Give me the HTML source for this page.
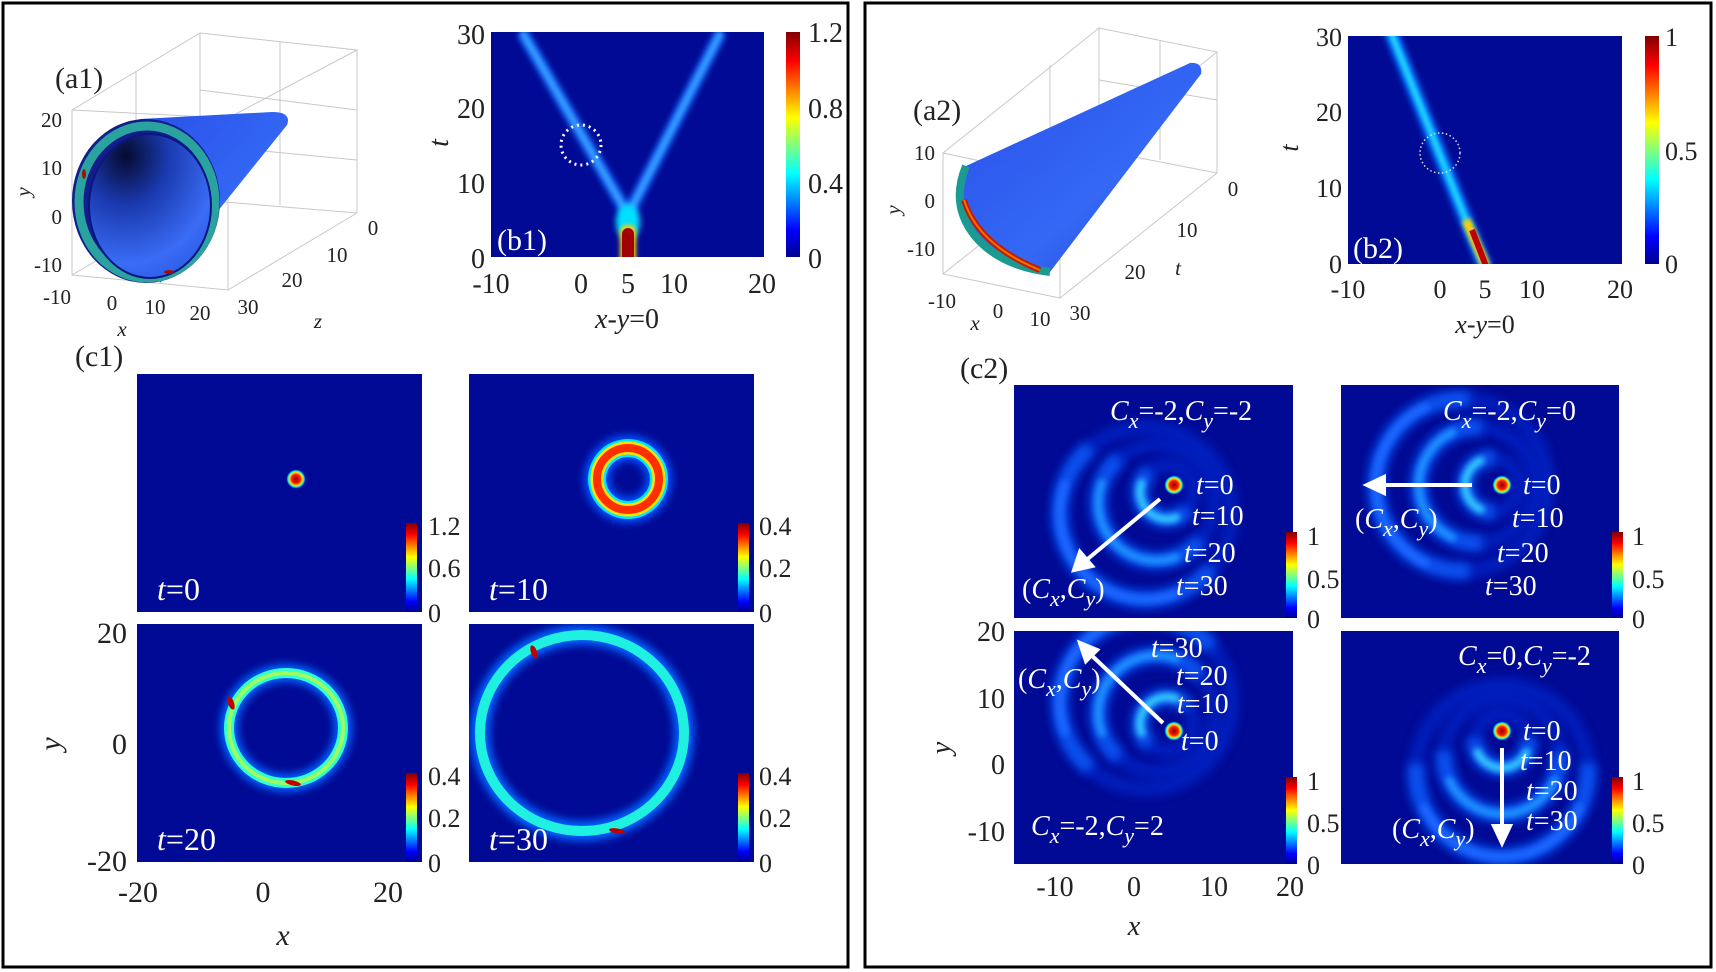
<!DOCTYPE html>
<html><head><meta charset="utf-8"><style>
html,body{margin:0;padding:0;background:#fff}
svg{display:block}
text{font-family:"Liberation Serif",serif;fill:#222}
.w{fill:#fff}
.i{font-style:italic}
</style></head><body>
<svg width="1716" height="972" viewBox="0 0 1716 972" xmlns="http://www.w3.org/2000/svg">
<defs>
<linearGradient id="jet" x1="0" y1="1" x2="0" y2="0">
<stop offset="0" stop-color="#00008f"/><stop offset="0.12" stop-color="#0000ff"/><stop offset="0.37" stop-color="#00ffff"/><stop offset="0.62" stop-color="#ffff00"/><stop offset="0.87" stop-color="#ff0000"/><stop offset="1" stop-color="#800000"/>
</linearGradient>
<filter id="b2" x="-50%" y="-50%" width="200%" height="200%"><feGaussianBlur stdDeviation="2"/></filter>
<filter id="b3" x="-50%" y="-50%" width="200%" height="200%"><feGaussianBlur stdDeviation="3"/></filter>
<filter id="b4" x="-50%" y="-50%" width="200%" height="200%"><feGaussianBlur stdDeviation="4"/></filter>
<filter id="b5" x="-50%" y="-50%" width="200%" height="200%"><feGaussianBlur stdDeviation="5"/></filter>
<radialGradient id="spot"><stop offset="0" stop-color="#900000"/><stop offset="0.45" stop-color="#ff2000"/><stop offset="0.65" stop-color="#ffe000"/><stop offset="0.82" stop-color="#00e0ff"/><stop offset="1" stop-color="#000a94" stop-opacity="0"/></radialGradient>
<radialGradient id="inner" cx="0.3" cy="0.15" r="1"><stop offset="0" stop-color="#050a30"/><stop offset="0.35" stop-color="#1a3ab0"/><stop offset="0.75" stop-color="#3a6cf5"/><stop offset="1" stop-color="#2a55e0"/></radialGradient>
<linearGradient id="coneg" x1="0" y1="0" x2="1" y2="1"><stop offset="0" stop-color="#2a50e8"/><stop offset="0.6" stop-color="#3468f5"/><stop offset="1" stop-color="#2244d0"/></linearGradient>
<clipPath id="cb1"><rect x="491" y="32" width="273" height="225"/></clipPath>
<clipPath id="cb2"><rect x="1348" y="36" width="274" height="228"/></clipPath>
<clipPath id="c1b"><rect x="469" y="374" width="285" height="238"/></clipPath>
<clipPath id="c1c"><rect x="137" y="624" width="285" height="238"/></clipPath>
<clipPath id="c1d"><rect x="469" y="624" width="285" height="238"/></clipPath>
<clipPath id="c2a"><rect x="1014" y="385" width="279" height="233"/></clipPath>
<clipPath id="c2b"><rect x="1341" y="385" width="278" height="233"/></clipPath>
<clipPath id="c2c"><rect x="1014" y="631" width="279" height="233"/></clipPath>
<clipPath id="c2d"><rect x="1341" y="631" width="278" height="233"/></clipPath>
</defs>

<rect x="3" y="3" width="845" height="964" fill="none" stroke="#000" stroke-width="3"/>
<rect x="865" y="3" width="846" height="964" fill="none" stroke="#000" stroke-width="3"/>

<!-- a1 -->
<g stroke="#c8c8c8" stroke-width="1" fill="none">
<polyline points="72,110 200,33 357,50 357,213"/>
<line x1="200" y1="33" x2="200" y2="200"/>
<line x1="200" y1="200" x2="357" y2="213"/>
<line x1="72" y1="275" x2="200" y2="200"/>
<line x1="136" y1="72" x2="136" y2="240"/><line x1="280" y1="42" x2="280" y2="205"/>
<line x1="200" y1="90" x2="357" y2="110"/><line x1="200" y1="145" x2="357" y2="160"/>
<polyline points="72,110 228,118 228,290 72,275 72,110"/>
<line x1="228" y1="118" x2="357" y2="50"/><line x1="228" y1="290" x2="357" y2="213"/>
</g>
<path d="M140,119 L272,112 Q292,112 287,125 L160,283 Z" fill="url(#coneg)"/>
<ellipse cx="146" cy="201" rx="74" ry="82" fill="#141e8a"/>
<ellipse cx="147" cy="202" rx="68" ry="76" fill="none" stroke="#2aa3a0" stroke-width="9"/>
<ellipse cx="150" cy="206" rx="61" ry="72" fill="url(#inner)" stroke="#0b1680" stroke-width="2"/>
<ellipse cx="84" cy="174" rx="2" ry="5" fill="#a01000"/>
<ellipse cx="169" cy="272" rx="5" ry="2" fill="#a01000"/>
<g font-size="21">
<text x="55" y="88" font-size="30">(a1)</text>
<text x="62" y="127" text-anchor="end">20</text>
<text x="62" y="175" text-anchor="end">10</text>
<text x="62" y="224" text-anchor="end">0</text>
<text x="62" y="272" text-anchor="end">-10</text>
<text x="57" y="304" text-anchor="middle">-10</text>
<text x="112" y="310" text-anchor="middle">0</text>
<text x="155" y="314" text-anchor="middle">10</text>
<text x="200" y="320" text-anchor="middle">20</text>
<text x="373" y="235" text-anchor="middle">0</text>
<text x="337" y="262" text-anchor="middle">10</text>
<text x="292" y="287" text-anchor="middle">20</text>
<text x="248" y="314" text-anchor="middle">30</text>
<text x="122" y="336" class="i" text-anchor="middle">x</text>
<text x="318" y="328" class="i" text-anchor="middle">z</text>
<text x="0" y="0" class="i" transform="translate(30,192) rotate(-90)" text-anchor="middle">y</text>
</g>

<!-- b1 -->
<rect x="491" y="32" width="273" height="225" fill="#000a94"/>
<g clip-path="url(#cb1)">
<polyline points="522,32 628,215 721,32" fill="none" stroke="#1a70ff" stroke-width="12" filter="url(#b3)"/>
<polyline points="522,32 628,215 721,32" fill="none" stroke="#3aa8ff" stroke-width="4" filter="url(#b2)"/>
<ellipse cx="628" cy="222" rx="12" ry="18" fill="#00e0ff" filter="url(#b3)"/>
<rect x="620" y="225" width="16" height="40" rx="7" fill="#ffd000" filter="url(#b2)"/>
<rect x="622" y="228" width="12" height="35" rx="6" fill="#a00000"/>
</g>
<circle cx="581" cy="145" r="20" fill="none" stroke="#fff" stroke-width="3" stroke-dasharray="2 4"/>
<rect x="786" y="32" width="14" height="225" fill="url(#jet)"/>
<g font-size="28">
<text x="808" y="42">1.2</text><text x="808" y="118">0.8</text><text x="808" y="193">0.4</text><text x="808" y="268">0</text>
<text x="485" y="44" text-anchor="end">30</text><text x="485" y="118" text-anchor="end">20</text><text x="485" y="193" text-anchor="end">10</text><text x="485" y="268" text-anchor="end">0</text>
<text x="491" y="293" text-anchor="middle">-10</text><text x="581" y="293" text-anchor="middle">0</text><text x="628" y="293" text-anchor="middle">5</text><text x="674" y="293" text-anchor="middle">10</text><text x="762" y="293" text-anchor="middle">20</text>
<text x="627" y="328" text-anchor="middle"><tspan class="i">x</tspan>-<tspan class="i">y</tspan>=0</text>
<text x="0" y="0" class="i" transform="translate(448,143) rotate(-90)" text-anchor="middle">t</text>
<text x="497" y="250" class="w" font-size="30">(b1)</text>
</g>

<!-- c1 -->
<g>
<rect x="137" y="374" width="285" height="238" fill="#000a94"/>
<rect x="469" y="374" width="285" height="238" fill="#000a94"/>
<rect x="137" y="624" width="285" height="238" fill="#000a94"/>
<rect x="469" y="624" width="285" height="238" fill="#000a94"/>
<circle cx="296" cy="479" r="10" fill="url(#spot)"/>
<g clip-path="url(#c1b)">
<circle cx="628" cy="479" r="31" fill="none" stroke="#0050ff" stroke-width="26" filter="url(#b4)"/>
<circle cx="628" cy="479" r="31" fill="none" stroke="#00e8ff" stroke-width="18"/>
<circle cx="628" cy="479" r="31" fill="none" stroke="#ffe000" stroke-width="13"/>
<circle cx="628" cy="479" r="31" fill="none" stroke="#ff3000" stroke-width="8"/>
</g>
<g clip-path="url(#c1c)">
<ellipse cx="286" cy="728" rx="57" ry="55" fill="none" stroke="#0060ff" stroke-width="18" filter="url(#b4)"/>
<ellipse cx="286" cy="728" rx="57" ry="55" fill="none" stroke="#30ffd0" stroke-width="10"/>
<ellipse cx="286" cy="728" rx="57" ry="55" fill="none" stroke="#a0ff60" stroke-width="4"/>
<ellipse cx="231" cy="703" rx="3" ry="7" fill="#c00000" transform="rotate(-20 231 703)"/>
<ellipse cx="293" cy="783" rx="8" ry="2.5" fill="#c00000" transform="rotate(12 293 783)"/>
</g>
<g clip-path="url(#c1d)">
<ellipse cx="582" cy="733" rx="102" ry="98" fill="none" stroke="#0060ff" stroke-width="20" filter="url(#b4)"/>
<ellipse cx="582" cy="733" rx="102" ry="98" fill="none" stroke="#20f0e0" stroke-width="10"/>
<ellipse cx="534" cy="652" rx="3" ry="7" fill="#c00000" transform="rotate(-20 534 652)"/>
<ellipse cx="617" cy="831" rx="8" ry="2.5" fill="#c00000" transform="rotate(10 617 831)"/>
</g>
<rect x="406" y="523" width="11" height="89" fill="url(#jet)"/>
<rect x="738" y="523" width="11" height="89" fill="url(#jet)"/>
<rect x="406" y="773" width="11" height="89" fill="url(#jet)"/>
<rect x="738" y="773" width="11" height="89" fill="url(#jet)"/>
<g font-size="26">
<text x="428" y="535">1.2</text><text x="428" y="577">0.6</text><text x="428" y="622">0</text>
<text x="759" y="535">0.4</text><text x="759" y="577">0.2</text><text x="759" y="622">0</text>
<text x="428" y="785">0.4</text><text x="428" y="827">0.2</text><text x="428" y="872">0</text>
<text x="759" y="785">0.4</text><text x="759" y="827">0.2</text><text x="759" y="872">0</text>
</g>
<g font-size="32">
<text x="157" y="600" class="w"><tspan class="i">t</tspan>=0</text>
<text x="489" y="600" class="w"><tspan class="i">t</tspan>=10</text>
<text x="157" y="850" class="w"><tspan class="i">t</tspan>=20</text>
<text x="489" y="850" class="w"><tspan class="i">t</tspan>=30</text>
</g>
<g font-size="30">
<text x="75" y="366">(c1)</text>
<text x="127" y="643" text-anchor="end">20</text>
<text x="127" y="754" text-anchor="end">0</text>
<text x="127" y="871" text-anchor="end">-20</text>
<text x="138" y="902" text-anchor="middle">-20</text>
<text x="263" y="902" text-anchor="middle">0</text>
<text x="388" y="902" text-anchor="middle">20</text>
<text x="283" y="945" class="i" text-anchor="middle">x</text>
<text x="0" y="0" class="i" transform="translate(60,744) rotate(-90)" text-anchor="middle">y</text>
</g>
</g>

<!-- a2 -->
<g stroke="#c8c8c8" stroke-width="1" fill="none">
<polyline points="943,153 1099,28 1217,52 1217,173"/>
<line x1="1099" y1="28" x2="1099" y2="150"/>
<line x1="1099" y1="150" x2="1217" y2="173"/><line x1="943" y1="274" x2="1099" y2="150"/>
<line x1="1160" y1="40" x2="1160" y2="160"/><line x1="1050" y1="65" x2="1050" y2="190"/>
<line x1="1099" y1="80" x2="1217" y2="100"/>
<polyline points="943,153 1060,178 1060,298 943,274 943,153"/>
<line x1="1060" y1="178" x2="1217" y2="52"/><line x1="1060" y1="298" x2="1217" y2="173"/>
</g>
<path d="M966,166 L1190,63 Q1203,62 1201,74 L1050,272 Q1000,266 975,236 Q950,205 966,166 Z" fill="url(#coneg)"/>
<path d="M966,166 Q950,205 975,236 Q1000,266 1050,272" fill="none" stroke="#1a9a90" stroke-width="8"/>
<path d="M964,200 Q978,245 1040,270" fill="none" stroke="#c81a00" stroke-width="6"/>
<path d="M964,200 Q978,245 1040,270" fill="none" stroke="#ffb000" stroke-width="2" opacity=".6"/>
<g font-size="21">
<text x="913" y="120" font-size="30">(a2)</text>
<text x="935" y="160" text-anchor="end">10</text>
<text x="935" y="208" text-anchor="end">0</text>
<text x="935" y="256" text-anchor="end">-10</text>
<text x="942" y="308" text-anchor="middle">-10</text>
<text x="998" y="318" text-anchor="middle">0</text>
<text x="1040" y="326" text-anchor="middle">10</text>
<text x="1233" y="196" text-anchor="middle">0</text>
<text x="1187" y="237" text-anchor="middle">10</text>
<text x="1135" y="279" text-anchor="middle">20</text>
<text x="1080" y="320" text-anchor="middle">30</text>
<text x="975" y="330" class="i" text-anchor="middle">x</text>
<text x="1178" y="275" class="i" text-anchor="middle">t</text>
<text x="0" y="0" class="i" transform="translate(900,210) rotate(-90)" text-anchor="middle">y</text>
</g>

<!-- b2 -->
<rect x="1348" y="36" width="274" height="228" fill="#000a94"/>
<g clip-path="url(#cb2)">
<line x1="1390" y1="30" x2="1486" y2="270" stroke="#0070ff" stroke-width="14" filter="url(#b3)"/>
<line x1="1390" y1="30" x2="1486" y2="270" stroke="#20d8ff" stroke-width="6" filter="url(#b2)"/>
<line x1="1466" y1="220" x2="1486" y2="266" stroke="#ffd000" stroke-width="9" filter="url(#b2)"/>
<line x1="1472" y1="230" x2="1486" y2="266" stroke="#c00000" stroke-width="6"/>
</g>
<circle cx="1440" cy="153" r="20" fill="none" stroke="#ddd" stroke-width="1.5" stroke-dasharray="1.5 2.5"/>
<rect x="1645" y="36" width="14" height="228" fill="url(#jet)"/>
<g font-size="26">
<text x="1665" y="46">1</text><text x="1665" y="160">0.5</text><text x="1665" y="273">0</text>
<text x="1342" y="46" text-anchor="end">30</text><text x="1342" y="121" text-anchor="end">20</text><text x="1342" y="197" text-anchor="end">10</text><text x="1342" y="273" text-anchor="end">0</text>
<text x="1348" y="298" text-anchor="middle">-10</text><text x="1440" y="298" text-anchor="middle">0</text><text x="1485" y="298" text-anchor="middle">5</text><text x="1532" y="298" text-anchor="middle">10</text><text x="1620" y="298" text-anchor="middle">20</text>
<text x="1485" y="333" text-anchor="middle"><tspan class="i">x</tspan>-<tspan class="i">y</tspan>=0</text>
<text x="0" y="0" class="i" transform="translate(1298,148) rotate(-90)" text-anchor="middle">t</text>
<text x="1353" y="258" class="w" font-size="30">(b2)</text>
</g>

<!-- c2 -->
<rect x="1014" y="385" width="279" height="233" fill="#000a94"/>
<rect x="1341" y="385" width="278" height="233" fill="#000a94"/>
<rect x="1014" y="631" width="279" height="233" fill="#000a94"/>
<rect x="1341" y="631" width="278" height="233" fill="#000a94"/>
<g id="rings"></g>
<circle cx="1174" cy="485" r="10" fill="url(#spot)"/>
<circle cx="1502" cy="485" r="10" fill="url(#spot)"/>
<circle cx="1174" cy="731" r="10" fill="url(#spot)"/>
<circle cx="1502" cy="731" r="10" fill="url(#spot)"/>
<g stroke="#fff" stroke-width="4" fill="#fff">
<line x1="1160" y1="499" x2="1084" y2="562"/><polygon points="1074,570 1080,552 1092,566"/>
<line x1="1472" y1="485" x2="1380" y2="485"/><polygon points="1367,485 1384,477 1384,493"/>
<line x1="1163" y1="723" x2="1088" y2="652"/><polygon points="1080,643 1097,650 1086,661"/>
<line x1="1502" y1="748" x2="1502" y2="830"/><polygon points="1502,843 1494,826 1510,826"/>
</g>
<rect x="1286" y="532" width="11" height="86" fill="url(#jet)"/>
<rect x="1612" y="532" width="11" height="86" fill="url(#jet)"/>
<rect x="1286" y="777" width="11" height="87" fill="url(#jet)"/>
<rect x="1612" y="777" width="11" height="87" fill="url(#jet)"/>
<g font-size="26">
<text x="1307" y="545">1</text><text x="1307" y="588">0.5</text><text x="1307" y="628">0</text>
<text x="1632" y="545">1</text><text x="1632" y="588">0.5</text><text x="1632" y="628">0</text>
<text x="1307" y="790">1</text><text x="1307" y="832">0.5</text><text x="1307" y="874">0</text>
<text x="1632" y="790">1</text><text x="1632" y="832">0.5</text><text x="1632" y="874">0</text>
</g>
<g font-size="28">
<text x="1110" y="420" class="w"><tspan class="i">C</tspan><tspan dy="8" font-size="22" class="i">x</tspan><tspan dy="-8">=-2,</tspan><tspan class="i">C</tspan><tspan dy="8" font-size="22" class="i">y</tspan><tspan dy="-8">=-2</tspan></text>
<text x="1196" y="494" class="w"><tspan class="i">t</tspan>=0</text>
<text x="1192" y="525" class="w"><tspan class="i">t</tspan>=10</text>
<text x="1184" y="562" class="w"><tspan class="i">t</tspan>=20</text>
<text x="1176" y="595" class="w"><tspan class="i">t</tspan>=30</text>
<text x="1022" y="598" class="w">(<tspan class="i">C</tspan><tspan dy="8" font-size="22" class="i">x</tspan><tspan dy="-8">,</tspan><tspan class="i">C</tspan><tspan dy="8" font-size="22" class="i">y</tspan><tspan dy="-8">)</tspan></text>

<text x="1443" y="420" class="w"><tspan class="i">C</tspan><tspan dy="8" font-size="22" class="i">x</tspan><tspan dy="-8">=-2,</tspan><tspan class="i">C</tspan><tspan dy="8" font-size="22" class="i">y</tspan><tspan dy="-8">=0</tspan></text>
<text x="1523" y="494" class="w"><tspan class="i">t</tspan>=0</text>
<text x="1512" y="527" class="w"><tspan class="i">t</tspan>=10</text>
<text x="1497" y="562" class="w"><tspan class="i">t</tspan>=20</text>
<text x="1485" y="595" class="w"><tspan class="i">t</tspan>=30</text>
<text x="1355" y="528" class="w">(<tspan class="i">C</tspan><tspan dy="8" font-size="22" class="i">x</tspan><tspan dy="-8">,</tspan><tspan class="i">C</tspan><tspan dy="8" font-size="22" class="i">y</tspan><tspan dy="-8">)</tspan></text>

<text x="1151" y="657" class="w"><tspan class="i">t</tspan>=30</text>
<text x="1176" y="685" class="w"><tspan class="i">t</tspan>=20</text>
<text x="1177" y="713" class="w"><tspan class="i">t</tspan>=10</text>
<text x="1181" y="750" class="w"><tspan class="i">t</tspan>=0</text>
<text x="1018" y="688" class="w">(<tspan class="i">C</tspan><tspan dy="8" font-size="22" class="i">x</tspan><tspan dy="-8">,</tspan><tspan class="i">C</tspan><tspan dy="8" font-size="22" class="i">y</tspan><tspan dy="-8">)</tspan></text>
<text x="1031" y="835" class="w"><tspan class="i">C</tspan><tspan dy="8" font-size="22" class="i">x</tspan><tspan dy="-8">=-2,</tspan><tspan class="i">C</tspan><tspan dy="8" font-size="22" class="i">y</tspan><tspan dy="-8">=2</tspan></text>

<text x="1458" y="665" class="w"><tspan class="i">C</tspan><tspan dy="8" font-size="22" class="i">x</tspan><tspan dy="-8">=0,</tspan><tspan class="i">C</tspan><tspan dy="8" font-size="22" class="i">y</tspan><tspan dy="-8">=-2</tspan></text>
<text x="1523" y="740" class="w"><tspan class="i">t</tspan>=0</text>
<text x="1520" y="770" class="w"><tspan class="i">t</tspan>=10</text>
<text x="1526" y="800" class="w"><tspan class="i">t</tspan>=20</text>
<text x="1526" y="830" class="w"><tspan class="i">t</tspan>=30</text>
<text x="1392" y="838" class="w">(<tspan class="i">C</tspan><tspan dy="8" font-size="22" class="i">x</tspan><tspan dy="-8">,</tspan><tspan class="i">C</tspan><tspan dy="8" font-size="22" class="i">y</tspan><tspan dy="-8">)</tspan></text>
</g>
<g font-size="28">
<text x="960" y="378" font-size="30">(c2)</text>
<text x="1005" y="641" text-anchor="end">20</text>
<text x="1005" y="708" text-anchor="end">10</text>
<text x="1005" y="774" text-anchor="end">0</text>
<text x="1005" y="841" text-anchor="end">-10</text>
<text x="1055" y="896" text-anchor="middle">-10</text>
<text x="1134" y="896" text-anchor="middle">0</text>
<text x="1214" y="896" text-anchor="middle">10</text>
<text x="1290" y="896" text-anchor="middle">20</text>
<text x="1134" y="935" class="i" text-anchor="middle">x</text>
<text x="0" y="0" class="i" transform="translate(950,748) rotate(-90)" text-anchor="middle">y</text>
</g>
</svg>
<script>
(function(){
var NS="http://www.w3.org/2000/svg",g=document.getElementById("rings");
var P=[[1174,485,135,"c2a"],[1502,485,180,"c2b"],[1174,731,225,"c2c"],[1502,731,90,"c2d"]];
var S=[10,25,40],R=[27,58,86],C=["#30c8ff","#1a90ff","#1a66ff"];
P.forEach(function(p){
 var gg=document.createElementNS(NS,"g");gg.setAttribute("clip-path","url(#"+p[3]+")");g.appendChild(gg);
 var a=p[2]*Math.PI/180,dx=Math.cos(a),dy=Math.sin(a);
 for(var k=0;k<3;k++){
  var cx=p[0]+dx*S[k],cy=p[1]+dy*S[k],r=R[k];
  var c=document.createElementNS(NS,"circle");c.setAttribute("cx",cx);c.setAttribute("cy",cy);c.setAttribute("r",r);
  c.setAttribute("fill","none");c.setAttribute("stroke","#0034e8");c.setAttribute("stroke-width",14);c.setAttribute("opacity",.5);c.setAttribute("filter","url(#b5)");gg.appendChild(c);
  var sp=95*Math.PI/180,a1=a-sp,a2=a+sp;
  var x1=cx+r*Math.cos(a1),y1=cy+r*Math.sin(a1),x2=cx+r*Math.cos(a2),y2=cy+r*Math.sin(a2);
  var pa=document.createElementNS(NS,"path");pa.setAttribute("d","M"+x1+","+y1+" A"+r+","+r+" 0 1 1 "+x2+","+y2);
  pa.setAttribute("fill","none");pa.setAttribute("stroke","#1060ff");pa.setAttribute("stroke-width",16);pa.setAttribute("filter","url(#b5)");pa.setAttribute("opacity",".8");gg.appendChild(pa);
  var sp2=65*Math.PI/180,b1=a-sp2,b2=a+sp2;
  var pb=document.createElementNS(NS,"path");pb.setAttribute("d","M"+(cx+r*Math.cos(b1))+","+(cy+r*Math.sin(b1))+" A"+r+","+r+" 0 0 1 "+(cx+r*Math.cos(b2))+","+(cy+r*Math.sin(b2)));
  pb.setAttribute("fill","none");pb.setAttribute("stroke",C[k]);pb.setAttribute("stroke-width",8);pb.setAttribute("stroke-linecap","round");pb.setAttribute("filter","url(#b3)");gg.appendChild(pb);
 }
});
})();
</script>
</body></html>
